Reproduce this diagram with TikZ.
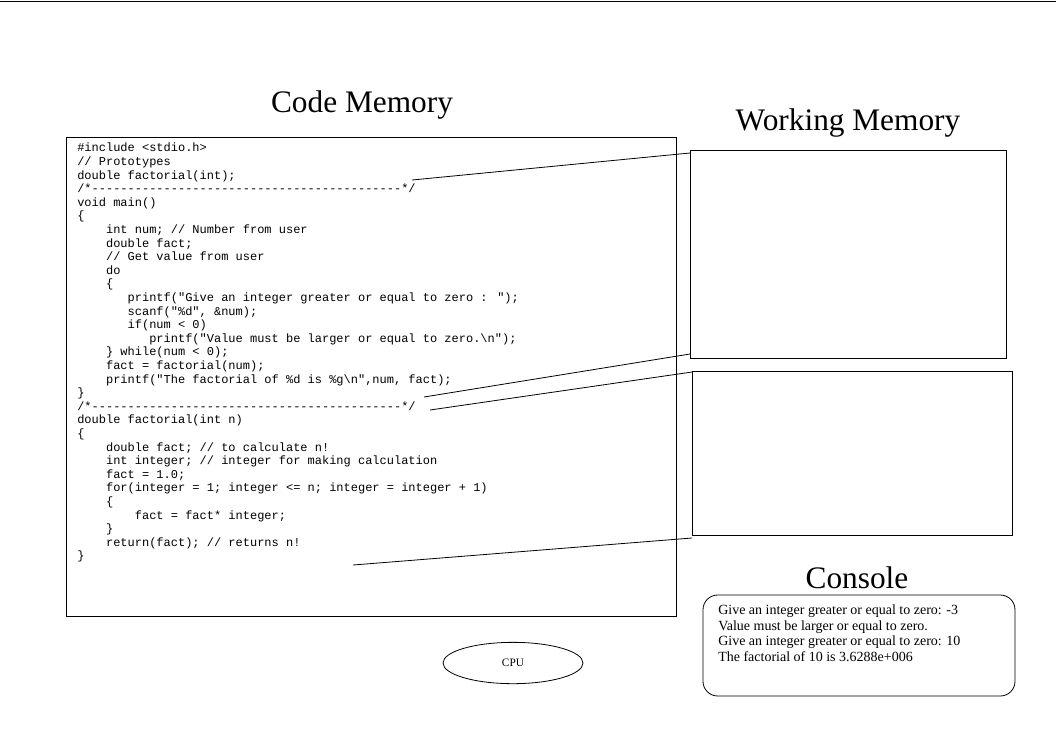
\documentclass[tikz,border=0pt]{standalone}
\usepackage{fontspec}
\setmainfont{Liberation Serif}
\newfontfamily\codefont{Liberation Mono}
\usetikzlibrary{shapes.geometric}
\begin{document}
\begin{tikzpicture}[x=0.75pt,y=-0.75pt,
  box/.style={draw,line width=0.6pt},
  link/.style={draw,line width=0.6pt},
  title/.style={font=\fontsize{23.5}{26}\selectfont,inner sep=0pt}]
\useasboundingbox (0,0) rectangle (1056,751);
\draw[line width=0.6pt] (0,1) -- (1056,1);
% boxes
\draw[box] (66,137) rectangle (676,616);
\draw[box] (690,150) rectangle (1006,358);
\draw[box] (692,371) rectangle (1012,535);
\draw[box,rounded corners=11pt] (703,595) rectangle (1015,696);
\coordinate (wm1a) at (690,153);
\coordinate (wm1b) at (690,354);
\coordinate (wm2a) at (692,372);
\coordinate (wm2b) at (692,538);
% titles
\node[title] (tc) at (362,105) {Code Memory};
\node[title] (tw) at (848,123) {Working Memory};
\node[title] (tk) at (857,578) {Console};
% code
\node[anchor=north west,inner sep=0pt,align=left,font=\codefont\fontsize{9.0}{10.2}\selectfont] (code) at (77,143) {%
\#include <stdio.h>\\
// Prototypes\\
double factorial(int);\\
/*-------------------------------------------*/\\
void main()\\
\{\\
\ \ \ \ int num; // Number from user\\
\ \ \ \ double fact;\\
\ \ \ \ // Get value from user\\
\ \ \ \ do\\
\ \ \ \ \{\\
\ \ \ \ \ \ \ printf("Give an integer greater or equal to zero : ");\\
\ \ \ \ \ \ \ scanf("\%d", \&num);\\
\ \ \ \ \ \ \ if(num < 0)\\
\ \ \ \ \ \ \ \ \ \ printf("Value must be larger or equal to zero.\textbackslash n");\\
\ \ \ \ \} while(num < 0);\\
\ \ \ \ fact = factorial(num);\\
\ \ \ \ printf("The factorial of \%d is \%g\textbackslash n",num, fact);\\
\}\\
/*-------------------------------------------*/\\
double factorial(int n)\\
\{\\
\ \ \ \ double fact; // to calculate n!\\
\ \ \ \ int integer; // integer for making calculation\\
\ \ \ \ fact = 1.0;\\
\ \ \ \ for(integer = 1; integer <= n; integer = integer + 1)\\
\ \ \ \ \{\\
\ \ \ \ \ \ \ \ fact = fact* integer;\\
\ \ \ \ \}\\
\ \ \ \ return(fact); // returns n!\\
\}};
\coordinate (c1) at (412,180);
\coordinate (c2) at (424,397);
\coordinate (c3) at (430,410);
\coordinate (c4) at (353,565);
\draw[link] (c1) -- (wm1a);
\draw[link] (c2) -- (wm1b);
\draw[link] (c3) -- (wm2a);
\draw[link] (c4) -- (wm2b);
% console
\node[anchor=north west,inner sep=0pt,align=left,font=\fontsize{10.5}{11.6}\selectfont] (con) at (718,605) {%
Give an integer greater or equal to zero: -3\\
Value must be larger or equal to zero.\\
Give an integer greater or equal to zero: 10\\
The factorial of 10 is 3.6288e+006};
% CPU
\node[draw,ellipse,line width=0.6pt,minimum width=105pt,minimum height=31pt,font=\fontsize{8.5}{10}\selectfont] (cpu) at (513,663) {CPU};
\end{tikzpicture}
\end{document}
